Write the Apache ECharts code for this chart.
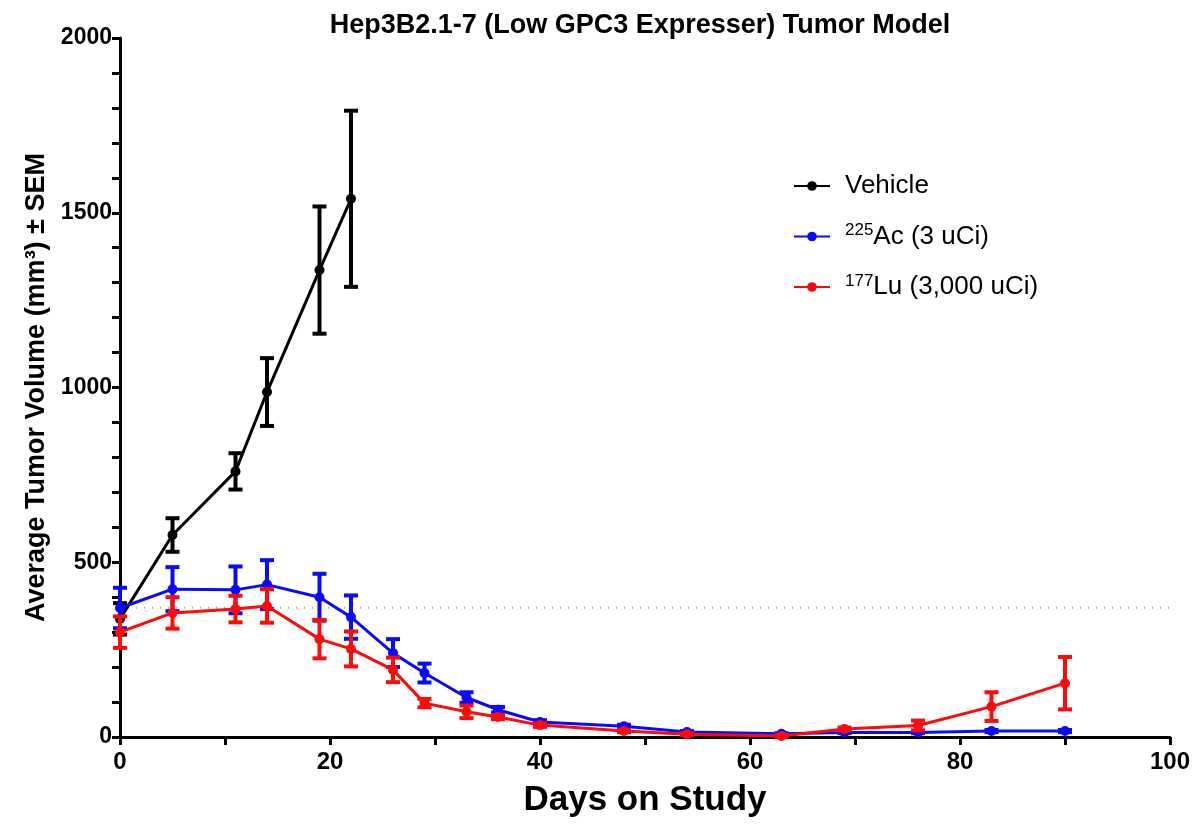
<!DOCTYPE html>
<html>
<head>
<meta charset="utf-8">
<script src="https://cdn.jsdelivr.net/npm/echarts@6/dist/echarts.min.js"></script>
<style>html,body{margin:0;padding:0;background:#fff}#c{width:1200px;height:832px}</style>
</head>
<body>
<div id="c"></div>
<script>
// ---- Data ----
const seriesNames = ['Vehicle', '225Ac (3 uCi)', '177Lu (3,000 uCi)'];
const vehicleDays = [0, 5, 11, 14, 19, 22];
const vehicleMean = [338, 578, 760, 987, 1336, 1540];
const vehicleSem  = [45, 48, 52, 97, 182, 252];

const acDays = [0, 5, 11, 14, 19, 22, 26, 29, 33, 36, 40, 48, 54, 63, 69, 76, 83, 90];
const acMean = [369, 423, 421, 436, 400, 343, 240, 183, 113, 78, 43, 31, 14, 9, 13, 13, 17, 17];
const acSem  = [58, 63, 67, 70, 67, 62, 40, 27, 15, 8, 5, 4, 3, 2, 2, 2, 3, 3];

const luDays = [0, 5, 11, 14, 19, 22, 26, 29, 33, 36, 40, 48, 54, 63, 69, 76, 83, 90];
const luMean = [300, 355, 366, 375, 280, 252, 192, 97, 72, 57, 34, 17, 8, 3, 23, 33, 87, 154];
const luSem  = [45, 45, 38, 48, 55, 50, 35, 12, 18, 6, 5, 3, 2, 2, 4, 14, 41, 75];

const refLineValue = 370;
const xTicks = [0, 20, 40, 60, 80, 100];
const yTicks = [0, 500, 1000, 1500, 2000];

// ---- Build ----
const colors = ['#000000', '#0a0aff', '#ff0a0a'];
const groups = [
  [vehicleDays, vehicleMean, vehicleSem],
  [acDays, acMean, acSem],
  [luDays, luMean, luSem]
];
const FONT = "'Liberation Sans', Arial, Helvetica, sans-serif";

function errRender(color) {
  return function (params, api) {
    const x = api.value(0), lo = api.value(1), hi = api.value(2);
    const p1 = api.coord([x, hi]), p2 = api.coord([x, lo]);
    const w = 7;
    const st = { stroke: color, lineWidth: 4 };
    return {
      type: 'group',
      children: [
        { type: 'line', shape: { x1: p1[0], y1: p1[1], x2: p2[0], y2: p2[1] }, style: st },
        { type: 'line', shape: { x1: p1[0] - w, y1: p1[1], x2: p1[0] + w, y2: p1[1] }, style: st },
        { type: 'line', shape: { x1: p2[0] - w, y1: p2[1], x2: p2[0] + w, y2: p2[1] }, style: st }
      ]
    };
  };
}

const series = [];
series.push({
  type: 'line', name: '_ref', silent: true, symbol: 'none',
  data: [[0, refLineValue], [100, refLineValue]],
  lineStyle: { color: '#aaaaaa', width: 2, type: [1, 7] }, z: 1
});
groups.forEach((g, i) => {
  const [d, m, s] = g;
  series.push({
    type: 'custom', name: seriesNames[i] + '_err', renderItem: errRender(colors[i]),
    data: d.map((x, k) => [x, m[k] - s[k], m[k] + s[k]]),
    encode: { x: 0, y: [1, 2] }, z: 3 + i * 2, silent: true
  });
  series.push({
    type: 'line', name: seriesNames[i],
    data: d.map((x, k) => [x, m[k]]),
    symbol: 'circle', symbolSize: 10,
    itemStyle: { color: colors[i] },
    lineStyle: { color: colors[i], width: 3 },
    z: 4 + i * 2
  });
});

const richLegend = {
  sp: { width: 10 },
  sup: { fontSize: 17, verticalAlign: 'top', padding: [0, 0, 12, 0], fontFamily: FONT, color: '#000' },
  n: { fontSize: 26, fontFamily: FONT, color: '#000' }
};

const option = {
  animation: false,
  backgroundColor: '#ffffff',
  title: {
    text: 'Hep3B2.1-7 (Low GPC3 Expresser) Tumor Model',
    left: 635, top: 7, textAlign: 'center',
    textStyle: { fontFamily: FONT, fontWeight: 'bold', fontSize: 27, color: '#000' }
  },
  legend: {
    data: seriesNames,
    orient: 'vertical', left: 788, top: 168, itemGap: 23,
    itemWidth: 36, itemHeight: 12,
    formatter: function (name) {
      if (name === '225Ac (3 uCi)') return '{sp|}{sup|225}{n|Ac (3 uCi)}';
      if (name === '177Lu (3,000 uCi)') return '{sp|}{sup|177}{n|Lu (3,000 uCi)}';
      return '{sp|}{n|' + name + '}';
    },
    textStyle: { fontFamily: FONT, fontSize: 26, color: '#000', rich: richLegend }
  },
  grid: { left: 120, right: 30, top: 38, bottom: 95, containLabel: false },
  xAxis: {
    type: 'value', min: 0, max: 100, interval: 20,
    name: 'Days on Study', nameLocation: 'middle', nameGap: 46,
    nameTextStyle: { fontFamily: FONT, fontWeight: 'bold', fontSize: 35, color: '#000' },
    axisLine: { lineStyle: { color: '#000', width: 3 } },
    axisTick: { show: true, length: 8, lineStyle: { color: '#000', width: 3 } },
    minorTick: { show: true, splitNumber: 2, length: 8, lineStyle: { color: '#000', width: 3 } },
    axisLabel: {
      fontFamily: FONT, fontWeight: 'bold', fontSize: 24, color: '#000', margin: 13,
      formatter: v => xTicks.indexOf(v) >= 0 ? String(v) : ''
    },
    splitLine: { show: false }
  },
  yAxis: {
    type: 'value', min: 0, max: 2000, interval: 500,
    name: 'Average Tumor Volume (mm³) ± SEM', nameLocation: 'middle', nameGap: 70,
    nameTextStyle: { fontFamily: FONT, fontWeight: 'bold', fontSize: 27, color: '#000' },
    axisLine: { lineStyle: { color: '#000', width: 3 } },
    axisTick: { show: true, length: 8, lineStyle: { color: '#000', width: 3 } },
    minorTick: { show: true, splitNumber: 5, length: 8, lineStyle: { color: '#000', width: 3 } },
    axisLabel: {
      fontFamily: FONT, fontWeight: 'bold', fontSize: 23, color: '#000', margin: 8,
      formatter: v => yTicks.indexOf(v) >= 0 ? String(v) : ''
    },
    splitLine: { show: false }
  },
  series: series
};

const chart = echarts.init(document.getElementById('c'), null, { renderer: 'canvas' });
chart.setOption(option);
</script>
</body>
</html>
